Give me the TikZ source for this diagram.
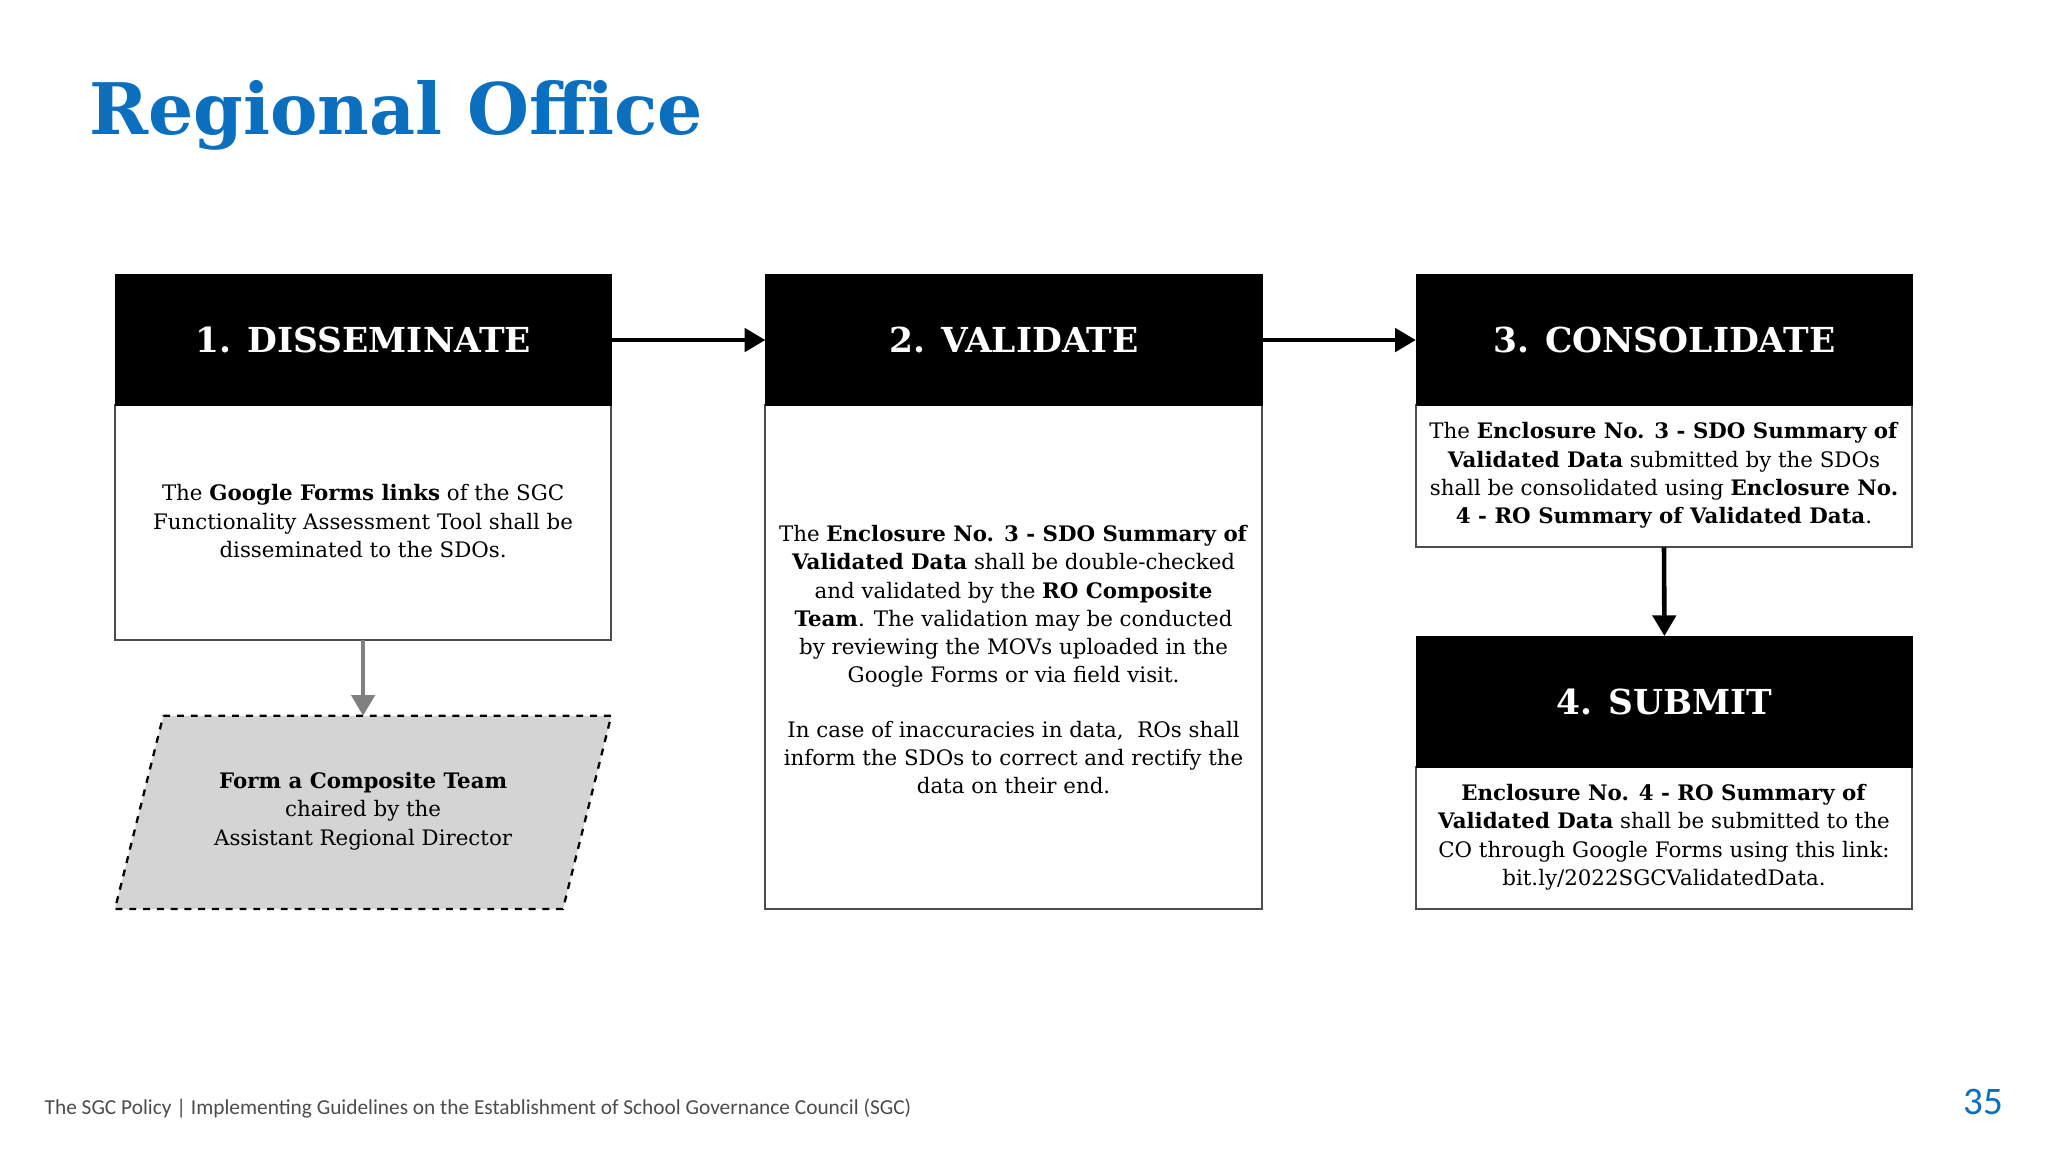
\documentclass[tikz,border=0pt]{standalone}
\usepackage{fontspec}
\setmainfont{DejaVu Serif}
\newfontfamily\foot{Carlito}
\usetikzlibrary{arrows.meta}
\definecolor{blu}{HTML}{0B6FC0}
\begin{document}
\begin{tikzpicture}[x=0.02cm,y=-0.02cm,
 hdr/.style={draw=black,fill=black,text=white,minimum width=7.6cm,minimum height=2cm,font=\fontsize{15}{18}\selectfont\bfseries,inner sep=0},
 body/.style={draw=black!70,fill=white,line width=0.8pt,inner sep=0},
 txt/.style={align=center,font=\fontsize{9.3}{12.3}\selectfont,inner sep=0},
 arr/.style={line width=2pt,-{Triangle[length=9pt,width=10pt]}}]
\useasboundingbox (0,0) rectangle (1568,882);
\node[anchor=west,text=blu,font=\fontsize{31}{34}\selectfont\bfseries] (title) at (62,88) {Regional Office};
% box 1
\draw[body] (88,310) rectangle (468,490);
\node[hdr,anchor=north west] (h1) at (88,210) {1. DISSEMINATE};
\node[txt] (t1) at (278,399) {The \textbf{Google Forms links} of the SGC\\Functionality Assessment Tool shall be\\disseminated to the SDOs.};
\coordinate (b1) at (278,490);
% parallelogram
\draw[dashed,line width=1pt,fill=black!17] (125,548) -- (468,548) -- (431,696) -- (88,696) -- cycle;
\coordinate (p1) at (278,548);
\node[txt] (t5) at (278,621) {\textbf{Form a Composite Team}\\chaired by the\\Assistant Regional Director};
% box 2
\draw[body] (586,310) rectangle (966,696);
\node[hdr,anchor=north west] (h2) at (586,210) {2. VALIDATE};
\node[txt] (t2) at (776,505) {The \textbf{Enclosure No. 3 - SDO Summary of}\\\textbf{Validated Data} shall be double-checked\\and validated by the \textbf{RO Composite}\\\textbf{Team}. The validation may be conducted\\by reviewing the MOVs uploaded in the\\Google Forms or via field visit.\\[0.4cm] In case of inaccuracies in data,\ \ ROs shall\\inform the SDOs to correct and rectify the\\data on their end.};
% box 3
\draw[body] (1084,310) rectangle (1464,419);
\node[hdr,anchor=north west] (h3) at (1084,210) {3. CONSOLIDATE};
\node[txt] (t3) at (1274,364) {The \textbf{Enclosure No. 3 - SDO Summary of}\\\textbf{Validated Data} submitted by the SDOs\\shall be consolidated using \textbf{Enclosure No.}\\\textbf{4 - RO Summary of Validated Data}.};
\coordinate (b3) at (1274,419);
% box 4
\draw[body] (1084,587) rectangle (1464,696);
\node[hdr,anchor=north west] (h4) at (1084,487) {4. SUBMIT};
\node[txt] (t4) at (1274,641) {\textbf{Enclosure No. 4 - RO Summary of}\\\textbf{Validated Data} shall be submitted to the\\CO through Google Forms using this link:\\bit.ly/2022SGCValidatedData.};
% arrows
\draw[arr] (h1.east) -- (h2.west);
\draw[arr] (h2.east) -- (h3.west);
\draw[arr] (b3) -- (h4.north);
\draw[arr,draw=black!50,-{Triangle[length=9pt,width=10pt]}] (b1) -- (p1);
% footer
\node[anchor=west,text=black!70,font=\foot\fontsize{9.3}{11}\selectfont] (ft) at (28,849) {The SGC Policy | Implementing Guidelines on the Establishment of School Governance Council (SGC)};
\node[anchor=east,text=blu,font=\foot\fontsize{17}{20}\selectfont] (pg) at (1540,844) {35};
\end{tikzpicture}
\end{document}
